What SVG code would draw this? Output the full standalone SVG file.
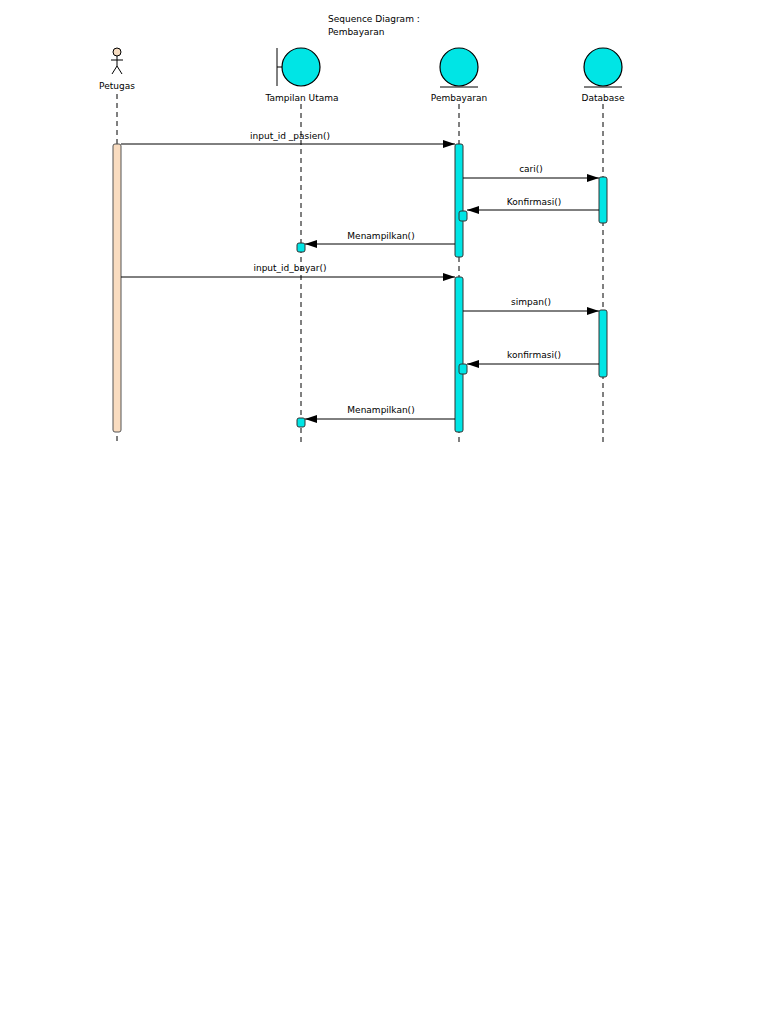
<svg xmlns="http://www.w3.org/2000/svg" width="768" height="1024" viewBox="0 0 768 1024">
<style>
text{font-family:"DejaVu Sans","Liberation Sans",sans-serif;font-size:9px;fill:#000}
.ll{stroke:#000;stroke-width:1;stroke-dasharray:5,4}
.act{fill:#00e5e5;stroke:#333;stroke-width:1}
.obj{fill:#00e5e5;stroke:#000;stroke-width:1.2}
.msg{stroke:#000;stroke-width:1;fill:none}
</style>
<defs><marker id="ah" markerWidth="12" markerHeight="8" refX="12" refY="4" orient="auto" markerUnits="userSpaceOnUse"><path d="M0,0L12,4L0,8z" fill="#000"/></marker></defs>
<rect width="768" height="1024" fill="#fff"/>
<text x="328" y="22">Sequence Diagram :</text>
<text x="328" y="35">Pembayaran</text>
<g id="petugas">
<circle cx="117" cy="52" r="4" fill="#f6dcc0" stroke="#000"/>
<path d="M117,56V66M111,60H123M117,66L112,74M117,66L122,74" stroke="#000" fill="none"/>
<text x="117" y="89" text-anchor="middle">Petugas</text>
<line class="ll" x1="117" y1="94" x2="117" y2="445"/>
<rect x="113" y="144" width="8" height="288" rx="2" fill="#f9dcc0" stroke="#555"/>
</g>
<g id="tampilan">
<line x1="277" y1="48" x2="277" y2="86" stroke="#000"/><line x1="277" y1="67" x2="282" y2="67" stroke="#000"/>
<circle class="obj" cx="301" cy="67" r="19"/>
<text x="302" y="101" text-anchor="middle">Tampilan Utama</text>
<line class="ll" x1="301" y1="104" x2="301" y2="445"/>
<rect class="act" x="297" y="243" width="8" height="9" rx="2"/>
<rect class="act" x="297" y="418" width="8" height="9" rx="2"/>
</g>
<g id="pembayaran">
<circle class="obj" cx="459" cy="67" r="19"/>
<line x1="440" y1="87" x2="478" y2="87" stroke="#000"/>
<text x="459" y="101" text-anchor="middle">Pembayaran</text>
<line class="ll" x1="459" y1="104" x2="459" y2="445"/>
<rect class="act" x="455" y="144" width="8" height="113" rx="2"/>
<rect class="act" x="455" y="277" width="8" height="155" rx="2"/>
<rect class="act" x="459" y="211" width="8" height="10" rx="2"/>
<rect class="act" x="459" y="364" width="8" height="10" rx="2"/>
</g>
<g id="database">
<circle class="obj" cx="603" cy="67" r="19"/>
<line x1="584" y1="87" x2="622" y2="87" stroke="#000"/>
<text x="603" y="101" text-anchor="middle">Database</text>
<line class="ll" x1="603" y1="104" x2="603" y2="445"/>
<rect class="act" x="599" y="177" width="8" height="46" rx="2"/>
<rect class="act" x="599" y="310" width="8" height="67" rx="2"/>
</g>
<g id="connectors">
<line class="msg" x1="121" y1="144" x2="455" y2="144" marker-end="url(#ah)"/>
<text x="290" y="139" text-anchor="middle">input_id _pasien()</text>
<line class="msg" x1="463" y1="178" x2="599" y2="178" marker-end="url(#ah)"/>
<text x="531" y="172" text-anchor="middle">cari()</text>
<line class="msg" x1="599" y1="210" x2="467" y2="210" marker-end="url(#ah)"/>
<text x="534" y="205" text-anchor="middle">Konfirmasi()</text>
<line class="msg" x1="455" y1="244" x2="305" y2="244" marker-end="url(#ah)"/>
<text x="381" y="239" text-anchor="middle">Menampilkan()</text>
<line class="msg" x1="121" y1="277" x2="455" y2="277" marker-end="url(#ah)"/>
<text x="290" y="271" text-anchor="middle">input_id_bayar()</text>
<line class="msg" x1="463" y1="311" x2="599" y2="311" marker-end="url(#ah)"/>
<text x="531" y="305" text-anchor="middle">simpan()</text>
<line class="msg" x1="599" y1="364" x2="467" y2="364" marker-end="url(#ah)"/>
<text x="534" y="358" text-anchor="middle">konfirmasi()</text>
<line class="msg" x1="455" y1="419" x2="305" y2="419" marker-end="url(#ah)"/>
<text x="381" y="413" text-anchor="middle">Menampilkan()</text>
</g>
</svg>
